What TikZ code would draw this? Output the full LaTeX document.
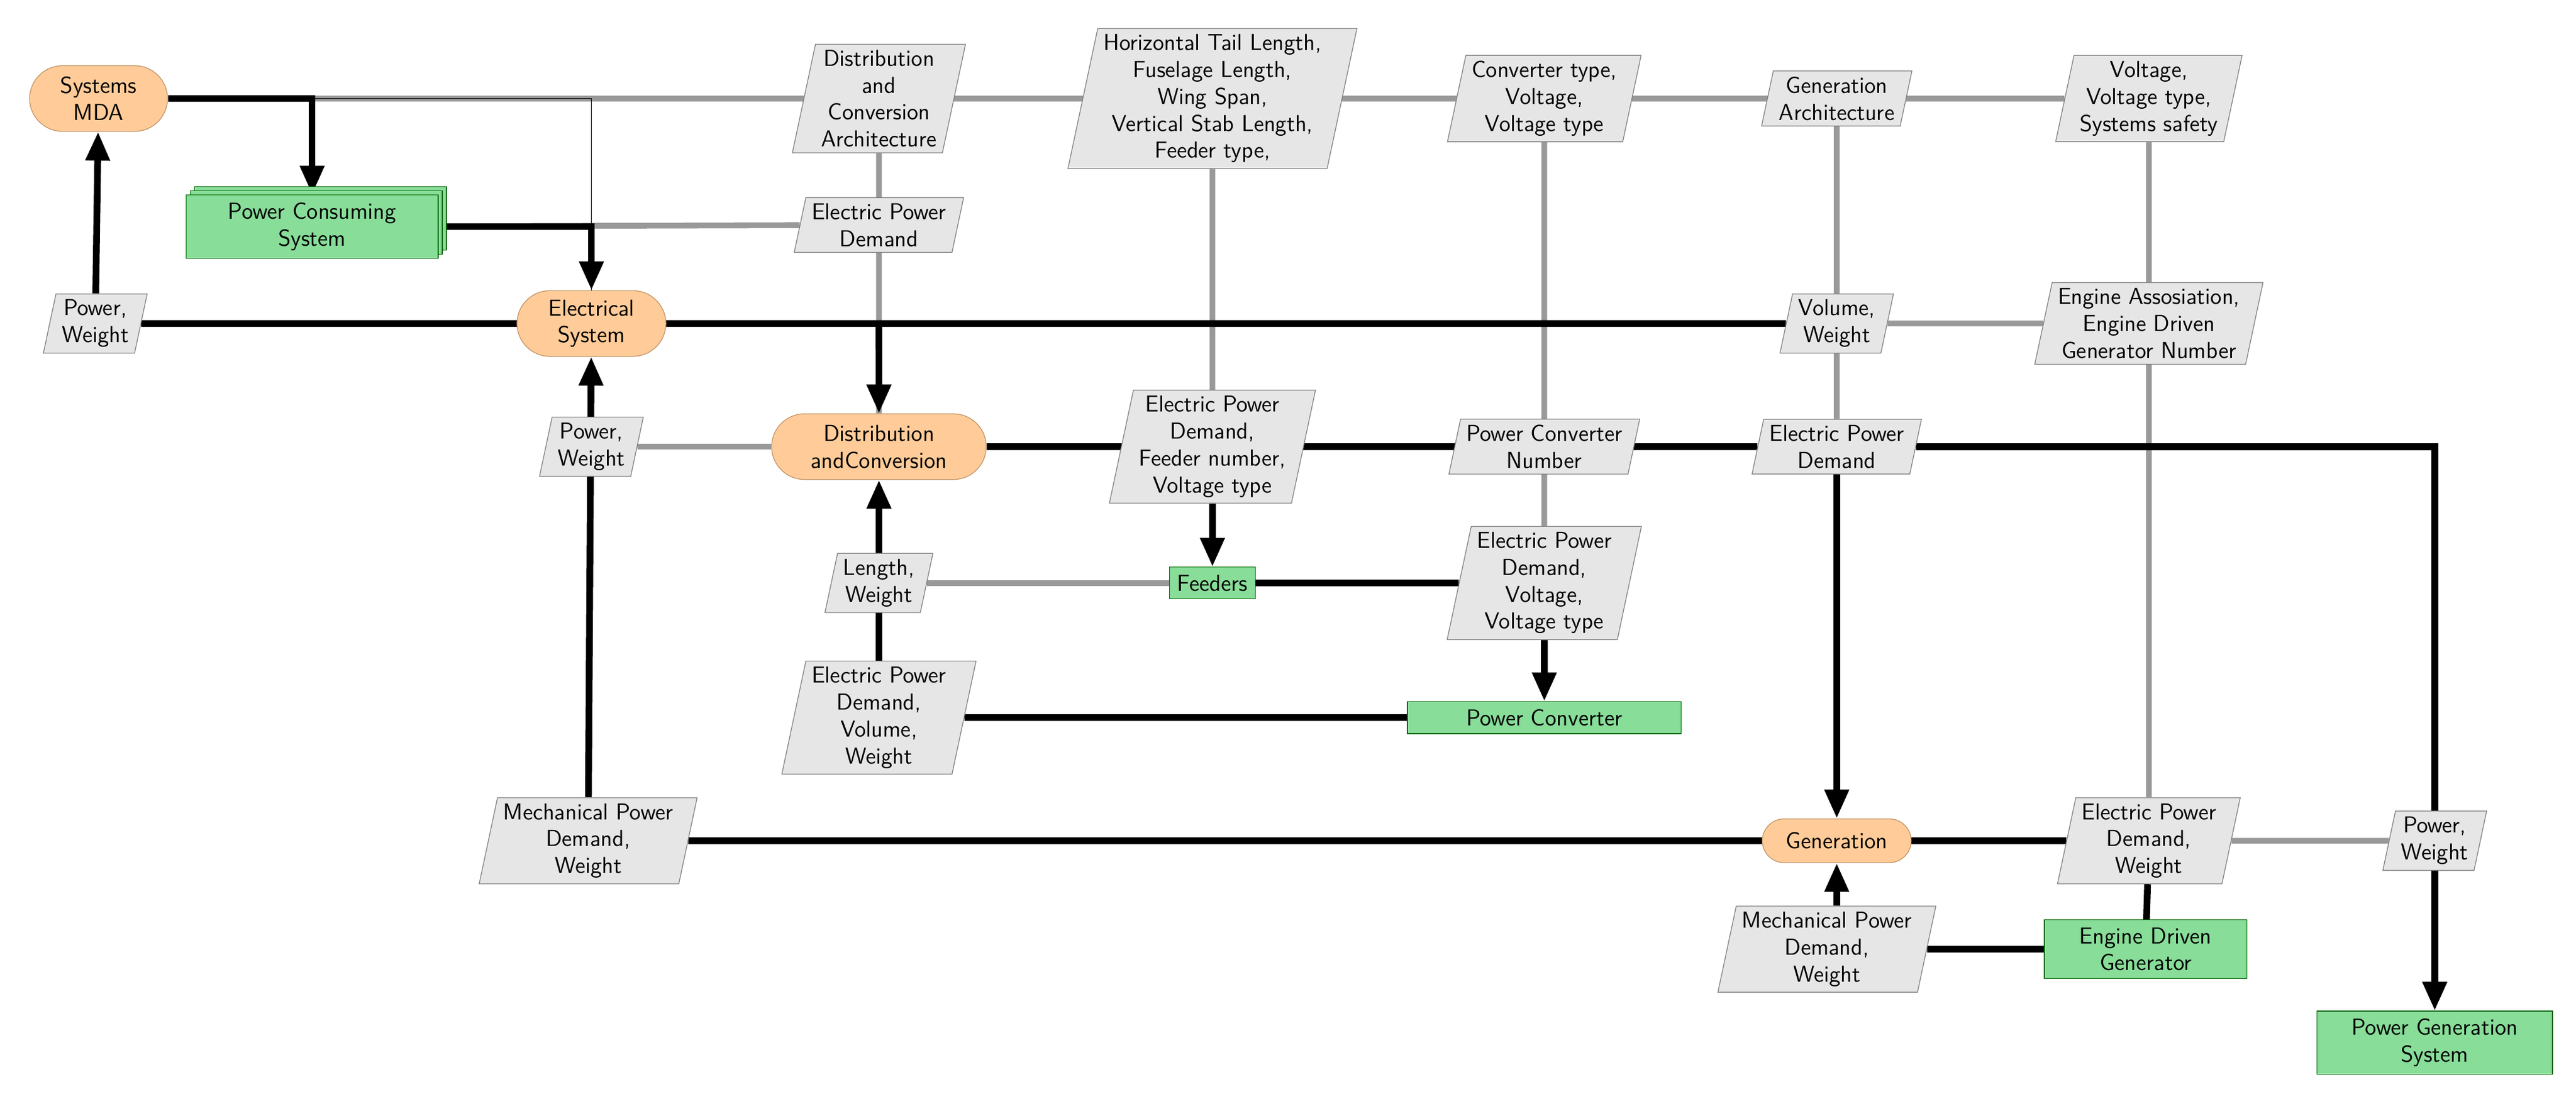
\documentclass[tikz,border=0pt]{standalone}
\usetikzlibrary{shapes.geometric,shapes.misc,arrows.meta,backgrounds,shadows}
\definecolor{anaorange}{HTML}{FFCC99}
\definecolor{fungreen}{HTML}{88DD99}
\definecolor{datgray}{HTML}{E6E6E6}
\begin{document}
\begin{tikzpicture}[x=0.03cm,y=-0.03cm,font=\sffamily\large,
	anal/.style={rounded rectangle,draw=orange!60!black!60,fill=anaorange,align=center,inner sep=4pt,minimum height=1.2cm,minimum width=2.6cm},
	func/.style={rectangle,draw=green!40!black,fill=fungreen,align=center,inner sep=4pt},
	dat/.style={trapezium,trapezium left angle=78,trapezium right angle=102,draw=gray,fill=datgray,align=center,inner sep=3pt,trapezium stretches body},
	dline/.style={draw=gray!80,line width=3pt},
	pline/.style={draw=black,line width=3.5pt},
	arr/.style={-{Triangle[length=15pt,width=12pt]}}
	]
	\useasboundingbox (0,0) rectangle (1568,672);
	% analyses
	\node (mda) [anal,minimum width=2.8cm] at (60,60) {Systems\\MDA};
	\node (es) [anal,minimum width=3cm] at (360,197) {Electrical\\System};
	\node (dc) [anal,minimum width=4.2cm] at (535,272) {Distribution\\andConversion};
	\node (gen) [anal,minimum height=0.8cm,minimum width=3cm] at (1118,512) {Generation};
	% functions
	\node (pcs) [func,double copy shadow={opacity=1,fill=fungreen,draw=green!40!black},minimum width=4.6cm] at (190,138) {Power Consuming\\System};
	\node (fd) [func] at (738,355) {Feeders};
	\node (pc) [func,minimum width=5cm] at (940,437) {Power Converter};
	\node (edg) [func,minimum width=3.7cm] at (1306,578) {Engine Driven\\Generator};
	\node (pgs) [func,minimum width=4.3cm] at (1482,635) {Power Generation\\System};
	% data
	\node (dca) [dat] at (535,60) {Distribution\\and\\Conversion\\Architecture};
	\node (hts) [dat] at (738,60) {Horizontal Tail Length,\\Fuselage Length,\\Wing Span,\\Vertical Stab Length,\\Feeder type,};
	\node (conv) [dat] at (940,60) {Converter type,\\Voltage,\\Voltage type};
	\node (garch) [dat] at (1118,60) {Generation\\Architecture};
	\node (vvs) [dat] at (1308,60) {Voltage,\\Voltage type,\\Systems safety};
	\node (epd1) [dat] at (535,137) {Electric Power\\Demand};
	\node (pw1) [dat] at (58,197) {Power,\\Weight};
	\node (vw) [dat] at (1118,197) {Volume,\\Weight};
	\node (ead) [dat] at (1308,197) {Engine Assosiation,\\Engine Driven\\Generator Number};
	\node (pw2) [dat] at (360,272) {Power,\\Weight};
	\node (epdf) [dat] at (738,272) {Electric Power\\Demand,\\Feeder number,\\Voltage type};
	\node (pcn) [dat] at (940,272) {Power Converter\\Number};
	\node (epd2) [dat] at (1118,272) {Electric Power\\Demand};
	\node (lw) [dat] at (535,355) {Length,\\Weight};
	\node (epdv) [dat] at (940,355) {Electric Power\\Demand,\\Voltage,\\Voltage type};
	\node (epdvw) [dat] at (535,437) {Electric Power\\Demand,\\Volume,\\Weight};
	\node (mpd1) [dat] at (358,512) {Mechanical Power\\Demand,\\Weight};
	\node (epdw) [dat] at (1308,512) {Electric Power\\Demand,\\Weight};
	\node (pw3) [dat] at (1482,512) {Power,\\Weight};
	\node (mpd2) [dat] at (1112,578) {Mechanical Power\\Demand,\\Weight};
	\begin{scope}[on background layer]
	% data lines
	\draw[dline] (mda) -- (vvs);
	\draw[dline] (dca) -- (dc);
	\draw[dline] (hts) -- (epdf);
	\draw[dline] (conv) -- (epdv);
	\draw[dline] (garch) -- (epd2);
	\draw[dline] (vvs) -- (epdw);
	\draw[dline] (pcs) -- (epd1);
	\draw[dline] (vw) -- (ead);
	\draw[dline] (pw2) -- (dc);
	\draw[dline] (lw) -- (fd);
	\draw[dline] (epdw) -- (pw3);
	% process lines
	\draw[thin] (mda.east) -| (es.north);
	\draw[pline,arr] (mda.east) -| (pcs.north);
	\draw[pline,arr] (pcs.east) -| (es.north);
	\draw[pline,arr] (pw1) -- (mda);
	\draw[pline] (pw1) -- (vw);
	\draw[pline,arr] (dc |- es) -- (dc);
	\draw[pline,arr] (mpd1) -- (es);
	\draw[pline,arr] (epdvw) -- (dc);
	\draw[pline] (dc) -- (epd2);
	\draw[pline,arr] (epd2) -| (pgs);
	\draw[pline,arr] (epdf) -- (fd);
	\draw[pline] (fd) -- (epdv);
	\draw[pline,arr] (epdv) -- (pc);
	\draw[pline] (epdvw) -- (pc);
	\draw[pline] (mpd1) -- (epdw);
	\draw[pline,arr] (epd2) -- (gen);
	\draw[pline,arr] (gen |- mpd2.north) -- (gen);
	\draw[pline] (mpd2) -- (edg);
	\draw[pline] (edg) -- (epdw);
	\end{scope}
\end{tikzpicture}
\end{document}
